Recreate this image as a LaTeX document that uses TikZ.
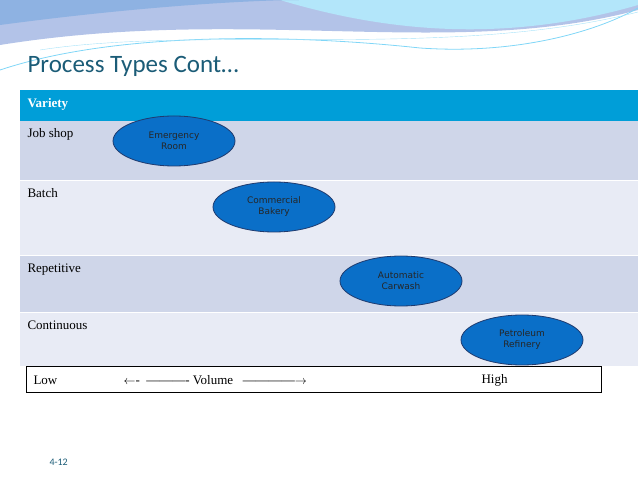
\documentclass[tikz,border=0pt]{standalone}
\usepackage{fontspec}
\setmainfont{Liberation Serif}
\newfontfamily\titlefont{Carlito}
\newfontfamily\ovalfont{DejaVu Sans}
\usetikzlibrary{shapes.geometric}
\definecolor{hdrblue}{HTML}{009ED8}
\definecolor{rowdark}{HTML}{CFD6E9}
\definecolor{rowlight}{HTML}{E8EBF5}
\definecolor{ovalblue}{HTML}{0A6FC8}
\definecolor{ovalrim}{HTML}{1F3A6E}
\definecolor{titleblue}{HTML}{1B5C77}
\tikzset{
  oval/.style={ellipse, draw=ovalrim, fill=ovalblue, thick, minimum width=122pt,
    minimum height=50pt, inner sep=0pt, align=center, font=\ovalfont\fontsize{9}{11}\selectfont,
    text=black!85},
  rowlabel/.style={anchor=west, font=\fontsize{13}{15}\selectfont},
}
\begin{document}
\begin{tikzpicture}[x=1pt, y=-1pt]
\useasboundingbox (0,0) rectangle (638,478);

% swoosh at the top
\fill[cyan!45!blue!30] (0,0) -- (638,0) -- (638,10) .. controls (450,60) and (250,5) .. (0,45) -- cycle;
\fill[cyan!30!white] (280,0) .. controls (380,30) and (500,45) .. (638,5) -- (638,0) -- cycle;
\fill[cyan!55!blue!45] (0,25) .. controls (150,5) and (260,0) .. (300,0) -- (0,0) -- cycle;
\draw[cyan!50, thick] (0,70) .. controls (120,30) and (300,35) .. (420,48) .. controls (520,55) and (600,30) .. (638,8);
\draw[cyan!35] (40,50) .. controls (200,25) and (450,60) .. (638,12);

\node[anchor=west, text=titleblue, font=\titlefont\fontsize{25}{28}\selectfont] (title) at (24,66) {Process Types Cont…};

% table
\fill[hdrblue] (20,90) rectangle (638,121);
\fill[rowdark] (20,121) rectangle (638,180);
\fill[rowlight] (20,180) rectangle (638,255);
\fill[rowdark] (20,255) rectangle (638,312);
\fill[rowlight] (20,312) rectangle (638,366);
\draw[white, thick] (20,180) -- (638,180) (20,255) -- (638,255) (20,312) -- (638,312);

\node[rowlabel, text=white, font=\bfseries\fontsize{13}{15}\selectfont] (variety) at (24,104) {Variety};
\node[rowlabel] (jobshop) at (24,134) {Job shop};
\node[rowlabel] (batch) at (24,193) {Batch};
\node[rowlabel] (repetitive) at (24,270) {Repetitive};
\node[rowlabel] (continuous) at (24,325) {Continuous};

\node[oval] (emergency) at (174,141) {Emergency\\Room};
\node[oval] (bakery) at (274,207) {Commercial\\Bakery};
\node[oval] (carwash) at (401,281) {Automatic\\Carwash};
\node[oval] (refinery) at (522,340) {Petroleum\\Refinery};

% volume scale
\draw[fill=white, semithick] (26,366) rectangle (601,392);
\node[rowlabel] (low) at (30,380) {Low};
\node[rowlabel] (volume) at (120,380) {$\leftarrow$-\ \ ---------- Volume\ \ \ ------------$\rightarrow$};
\node[rowlabel] (high) at (478,380) {High};

\node[anchor=west, text=titleblue, font=\titlefont\fontsize{10}{12}\selectfont] (pagenum) at (46,462) {4-12};
\end{tikzpicture}
\end{document}
